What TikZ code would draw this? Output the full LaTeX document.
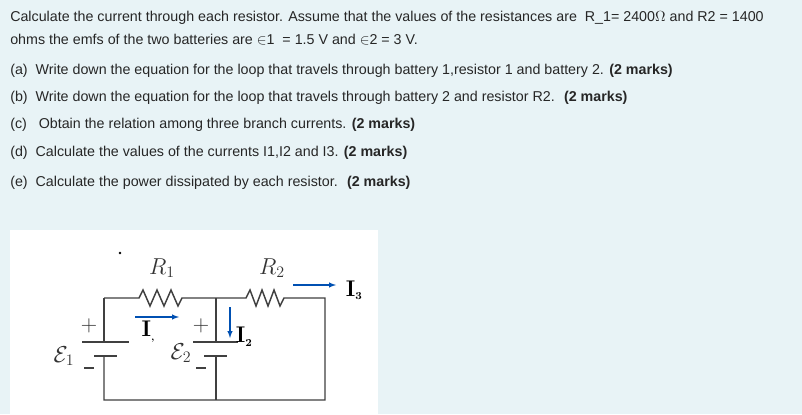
\documentclass[tikz,border=0pt]{standalone}
\usepackage{fontspec}
\setmainfont{Liberation Sans}
\newfontfamily\lmserif{Latin Modern Roman}
\begin{document}
\begin{tikzpicture}[x=0.75pt,y=-0.75pt,
  txt/.style={anchor=west,inner sep=0pt,font=\fontsize{10.7}{12}\selectfont,text=black!85},
  wire/.style={draw=black!75,line width=1.1pt},
  cur/.style={draw=blue!55!cyan!70!black,line width=0.8pt,-latex},
  lab/.style={font=\lmserif\fontsize{17}{18}\selectfont,inner sep=0pt,text=black!80},
  hand/.style={font=\lmserif\fontsize{17}{18}\selectfont\bfseries,inner sep=0pt}]
\fill[fill={rgb,255:red,232;green,243;blue,246}] (0,0) rectangle (802,414);
\useasboundingbox (0,0) rectangle (802,414);
\fill[white] (10,230) rectangle (378,414);
\node[txt] (t1) at (10,18) {Calculate the current through each resistor. Assume that the values of the resistances are \ R\_1= 2400\(\Omega\) and R2 = 1400};
\node[txt] (t2) at (10,40) {ohms the emfs of the two batteries are \(\in\)1 \ = 1.5 V and \(\in\)2 = 3 V.};
\node[txt] (a) at (10,71) {(a) \ Write down the equation for the loop that travels through battery 1,resistor 1 and battery 2. \textbf{(2 marks)}};
\node[txt] (b) at (10,98) {(b) \ Write down the equation for the loop that travels through battery 2 and resistor R2. \ \textbf{(2 marks)}};
\node[txt] (c) at (10,125) {(c) \ \ Obtain the relation among three branch currents. \textbf{(2 marks)}};
\node[txt] (d) at (10,153) {(d) \ Calculate the values of the currents I1,I2 and I3. \textbf{(2 marks)}};
\node[txt] (e) at (10,183) {(e) \ Calculate the power dissipated by each resistor. \ \textbf{(2 marks)}};
% circuit
\coordinate (tl) at (104,298); \coordinate (tm) at (216,298); \coordinate (tr) at (325,298);
\coordinate (bl) at (104,400); \coordinate (bm) at (216,400); \coordinate (br) at (325,400);
\draw[wire,line join=miter] (tl) -- (139,298) -- (143,290) -- (150,306) -- (157,290) -- (164,306) -- (171,290) -- (178,306) -- (182,298) -- (tm)
  -- (246,298) -- (250,290) -- (256,306) -- (262,290) -- (268,306) -- (274,290) -- (280,306) -- (284,298) -- (tr) -- (br) -- (bl) -- (104,356);
\draw[wire] (tl) -- (104,342);
\draw[wire] (82,342) -- (129,342); \draw[wire] (94,356) -- (117,356);
\draw[wire] (tm) -- (216,342); \draw[wire] (216,356) -- (bm);
\draw[wire] (193,342) -- (238,342); \draw[wire] (204,356) -- (227,356);
\node[lab] (p1) at (89,326) {+}; \draw[wire,line width=0.9pt] (84,368) -- (94,368);
\node[lab] (p2) at (201,326) {+}; \draw[wire,line width=0.9pt] (196,368) -- (206,368);
\node[lab] (e1) at (64,356) {$\mathcal{E}_1$};
\node[lab] (e2) at (181,353) {$\mathcal{E}_2$};
\node[lab] (r1) at (162,268) {$R_1$};
\node[lab] (r2) at (272,268) {$R_2$};
\node[hand] (i1) at (148,332) {I\raisebox{-3pt}{\scriptsize,}};
\node[hand] (i2) at (244,337) {I\raisebox{-3pt}{\footnotesize 2}};
\node[hand] (i3) at (354,290) {I\raisebox{-2pt}{\footnotesize 3}};
\coordinate (a1s) at (135,317); \coordinate (a1e) at (179,317);
\coordinate (a2s) at (230,307); \coordinate (a2e) at (230,338);
\coordinate (a3s) at (293,285); \coordinate (a3e) at (336,285);
\draw[cur] (a1s) -- (a1e); \draw[cur] (a2s) -- (a2e); \draw[cur] (a3s) -- (a3e);
\fill (120,253) circle (1pt);
\end{tikzpicture}
\end{document}
